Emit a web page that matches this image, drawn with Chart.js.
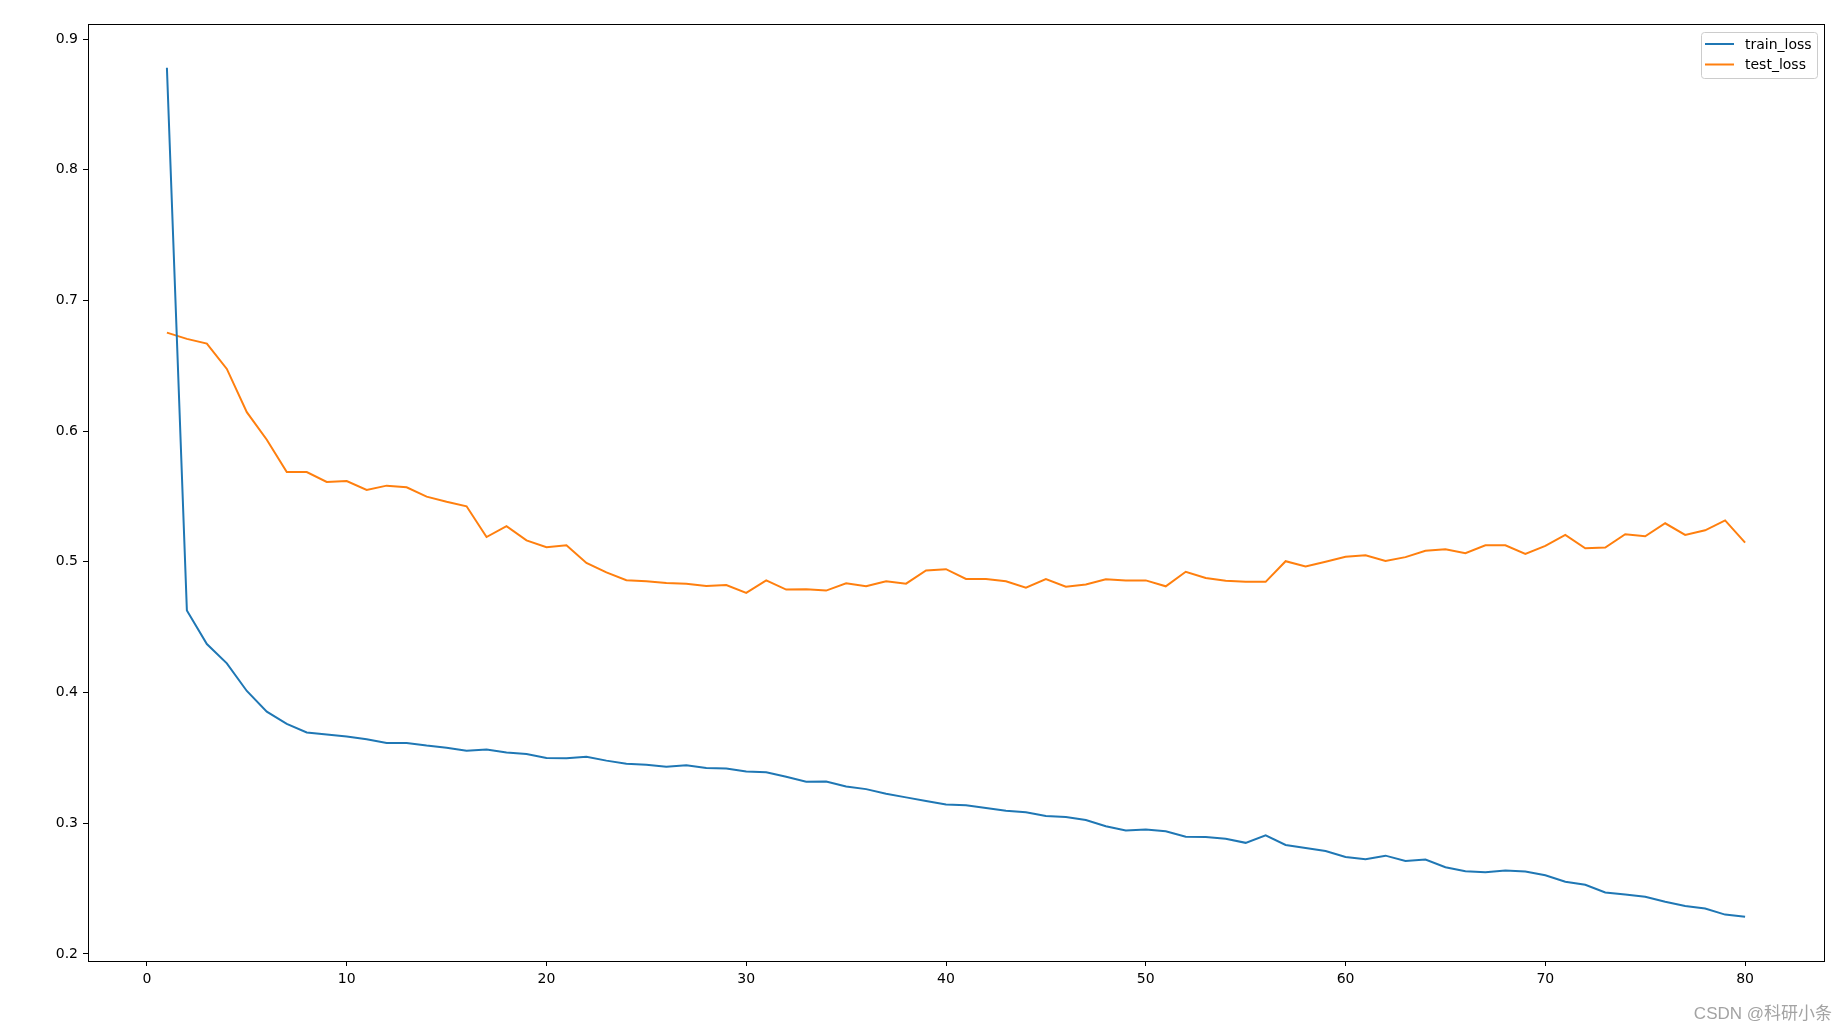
<!DOCTYPE html>
<html>
<head>
<meta charset="utf-8">
<script src="https://cdn.jsdelivr.net/npm/chart.js@4/dist/chart.umd.min.js"></script>
<style>
  html, body { margin: 0; padding: 0; background: #fff; }
  #lossChart { display: block; }
</style>
</head>
<body>
<canvas id="lossChart" width="1848" height="1033"></canvas>
<script>
// epochs 1..80
var epochs = Array.from({ length: 80 }, function (_, i) { return i + 1; });

var trainLoss = [
  0.878, 0.4628, 0.4371, 0.4223, 0.4012, 0.3854, 0.3760, 0.3695, 0.3679, 0.3664,
  0.3643, 0.3614, 0.3614, 0.3594, 0.3578, 0.3555, 0.3565, 0.3542, 0.3529, 0.3500,
  0.3498, 0.3508, 0.3479, 0.3456, 0.3448, 0.3433, 0.3443, 0.3423, 0.3418, 0.3395,
  0.3390, 0.3355, 0.3317, 0.3319, 0.3281, 0.3261, 0.3225, 0.3198, 0.3170, 0.3144,
  0.3137, 0.3117, 0.3096, 0.3084, 0.3056, 0.3048, 0.3025, 0.2977, 0.2944, 0.2952,
  0.2939, 0.2896, 0.2894, 0.2881, 0.2850, 0.2908, 0.2834, 0.2810, 0.2788, 0.2742,
  0.2724, 0.2752, 0.2712, 0.2722, 0.2663, 0.2633, 0.2625, 0.2638, 0.2630, 0.2602,
  0.2552, 0.2529, 0.2470, 0.2455, 0.2438, 0.2400, 0.2367, 0.2347, 0.2301, 0.2285
];

var testLoss = [
  0.6754, 0.6706, 0.6670, 0.6476, 0.6145, 0.5934, 0.5687, 0.5687, 0.5611, 0.5618,
  0.5550, 0.5583, 0.5570, 0.5499, 0.5460, 0.5425, 0.5190, 0.5273, 0.5164, 0.5112,
  0.5127, 0.4992, 0.4919, 0.4860, 0.4852, 0.4839, 0.4832, 0.4815, 0.4823, 0.4762,
  0.4858, 0.4788, 0.4790, 0.4780, 0.4836, 0.4813, 0.4851, 0.4833, 0.4934, 0.4944,
  0.4869, 0.4869, 0.4851, 0.4803, 0.4869, 0.4810, 0.4826, 0.4866, 0.4858, 0.4858,
  0.4813, 0.4924, 0.4876, 0.4856, 0.4847, 0.4847, 0.5005, 0.4965, 0.5001, 0.5039,
  0.5051, 0.5006, 0.5036, 0.5084, 0.5097, 0.5066, 0.5127, 0.5127, 0.5061, 0.5122,
  0.5206, 0.5104, 0.5109, 0.5211, 0.5196, 0.5295, 0.5206, 0.5241, 0.5317, 0.5147
];

var xTicks = [0, 10, 20, 30, 40, 50, 60, 70, 80];
var yTicks = [0.2, 0.3, 0.4, 0.5, 0.6, 0.7, 0.8, 0.9];

var FONT = "'DejaVu Sans', sans-serif";

function toPoints(values) {
  return values.map(function (v, i) { return { x: epochs[i], y: v }; });
}

// top/right spines like matplotlib
var framePlugin = {
  id: 'frame',
  afterDraw: function (chart) {
    var a = chart.chartArea, ctx = chart.ctx;
    ctx.save();
    ctx.strokeStyle = '#000';
    ctx.lineWidth = 1;
    ctx.strokeRect(Math.round(a.left) + 0.5, Math.round(a.top) + 0.5,
      Math.round(a.right - a.left), Math.round(a.bottom - a.top));
    ctx.restore();
  }
};

// legend box in the upper right corner
var boxLegend = {
  id: 'boxLegend',
  afterDraw: function (chart) {
    var a = chart.chartArea, ctx = chart.ctx;
    var w = 116, h = 46;
    var x = a.right - 7 - w, y = a.top + 8;
    ctx.save();
    ctx.beginPath();
    ctx.roundRect(x + 0.5, y + 0.5, w, h, 3);
    ctx.fillStyle = 'rgba(255,255,255,0.8)';
    ctx.fill();
    ctx.strokeStyle = '#cccccc';
    ctx.lineWidth = 1;
    ctx.stroke();
    ctx.font = '14px ' + FONT;
    ctx.textBaseline = 'middle';
    chart.data.datasets.forEach(function (ds, i) {
      var ly = y + 12 + i * 20.5;
      ctx.strokeStyle = ds.borderColor;
      ctx.lineWidth = 2;
      ctx.beginPath();
      ctx.moveTo(x + 4, ly);
      ctx.lineTo(x + 33, ly);
      ctx.stroke();
      ctx.fillStyle = '#000';
      ctx.fillText(ds.label, x + 44, ly + 1);
    });
    ctx.restore();
  }
};

var watermark = {
  id: 'watermark',
  afterDraw: function (chart) {
    var ctx = chart.ctx;
    ctx.save();
    ctx.font = "17px 'Liberation Sans', 'Noto Sans CJK SC', sans-serif";
    ctx.fillStyle = '#a3a3a3';
    ctx.textAlign = 'right';
    ctx.textBaseline = 'middle';
    ctx.fillText('CSDN @科研小条', 1832, 1014);
    ctx.restore();
  }
};

function axisOpts(ticks, min, max, fit) {
  return {
    type: 'linear',
    min: min,
    max: max,
    afterBuildTicks: function (axis) {
      axis.ticks = ticks.map(function (v) { return { value: v }; });
    },
    afterFit: fit,
    grid: {
      drawOnChartArea: false,
      drawTicks: true,
      tickLength: 5,
      tickColor: '#000',
      tickWidth: 1
    },
    border: { display: true, color: '#000', width: 1 },
    ticks: {
      color: '#000',
      font: { family: FONT, size: 14 },
      padding: 5,
      autoSkip: false,
      maxRotation: 0,
      callback: function (v) { return ticks === yTicks ? v.toFixed(1) : String(v); }
    }
  };
}

new Chart(document.getElementById('lossChart').getContext('2d'), {
  type: 'line',
  data: {
    datasets: [{
      label: 'train_loss',
      data: toPoints(trainLoss),
      borderColor: '#1f77b4',
      borderWidth: 2,
      pointRadius: 0,
      fill: false,
      tension: 0
    }, {
      label: 'test_loss',
      data: toPoints(testLoss),
      borderColor: '#ff7f0e',
      borderWidth: 2,
      pointRadius: 0,
      fill: false,
      tension: 0
    }]
  },
  options: {
    responsive: false,
    devicePixelRatio: 1,
    animation: false,
    layout: { padding: { top: 24, right: 24, left: 0, bottom: 0 } },
    plugins: {
      legend: { display: false },
      tooltip: { enabled: false }
    },
    scales: {
      x: axisOpts(xTicks, -2.95, 83.95, function (s) { s.height = 72; }),
      y: axisOpts(yTicks, 0.1946, 0.9115, function (s) { s.width = 88; })
    }
  },
  plugins: [framePlugin, boxLegend, watermark]
});
</script>
</body>
</html>
